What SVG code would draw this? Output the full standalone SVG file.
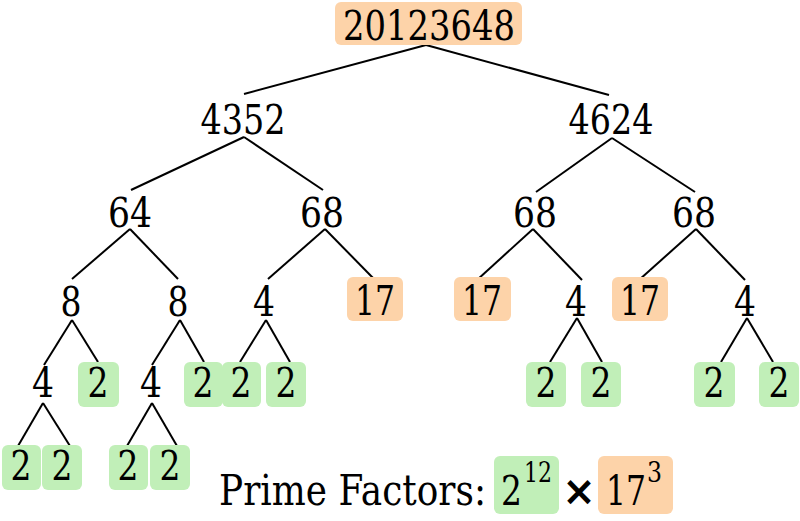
<svg xmlns="http://www.w3.org/2000/svg" width="800" height="521" viewBox="0 0 800 521">
<style>
.t{font-family:'DejaVu Serif',serif;font-size:41px;text-anchor:middle;fill:#000}
.sup{font-size:27px}
.g{fill:#c1efb8}
.o{fill:#fdd3a9}
.e line{stroke:#000;stroke-width:2}
</style>
<rect width="800" height="521" fill="#fff"/>
<g id="connectors" class="e">
<line x1="426" y1="45" x2="244" y2="94"/>
<line x1="426" y1="45" x2="609" y2="95"/>
<line x1="244" y1="137" x2="131" y2="190"/>
<line x1="244" y1="137" x2="323" y2="190"/>
<line x1="612" y1="138" x2="536" y2="192"/>
<line x1="612" y1="138" x2="695" y2="192"/>
<line x1="130" y1="229" x2="72" y2="279"/>
<line x1="130" y1="229" x2="178" y2="279"/>
<line x1="325" y1="229" x2="268" y2="279"/>
<line x1="325" y1="229" x2="374" y2="279"/>
<line x1="533" y1="229" x2="477" y2="280"/>
<line x1="533" y1="229" x2="582" y2="280"/>
<line x1="696" y1="229" x2="639" y2="280"/>
<line x1="696" y1="229" x2="745" y2="280"/>
<line x1="72" y1="320" x2="44" y2="365"/>
<line x1="72" y1="320" x2="98" y2="362"/>
<line x1="180" y1="320" x2="152" y2="365"/>
<line x1="180" y1="320" x2="204" y2="362"/>
<line x1="266" y1="320" x2="240" y2="362"/>
<line x1="266" y1="320" x2="290" y2="362"/>
<line x1="577" y1="318" x2="550" y2="362"/>
<line x1="577" y1="318" x2="602" y2="362"/>
<line x1="747" y1="318" x2="721" y2="362"/>
<line x1="747" y1="318" x2="773" y2="362"/>
<line x1="43" y1="403" x2="18" y2="446"/>
<line x1="43" y1="403" x2="70" y2="446"/>
<line x1="152" y1="403" x2="127" y2="446"/>
<line x1="152" y1="403" x2="177" y2="446"/>
</g>
<g id="n-root"><rect class="o" x="335" y="2" width="187" height="43" rx="6"/><text class="t" x="429" y="40" textLength="172" lengthAdjust="spacingAndGlyphs">20123648</text></g>
<g id="n-4352"><text class="t" x="243" y="134" textLength="85" lengthAdjust="spacingAndGlyphs">4352</text></g>
<g id="n-4624"><text class="t" x="611" y="134" textLength="85" lengthAdjust="spacingAndGlyphs">4624</text></g>
<g id="n-64"><text class="t" x="130" y="227" textLength="44" lengthAdjust="spacingAndGlyphs">64</text></g>
<g id="n-68a"><text class="t" x="322" y="227" textLength="44" lengthAdjust="spacingAndGlyphs">68</text></g>
<g id="n-68b"><text class="t" x="535" y="227" textLength="44" lengthAdjust="spacingAndGlyphs">68</text></g>
<g id="n-68c"><text class="t" x="694" y="227" textLength="44" lengthAdjust="spacingAndGlyphs">68</text></g>
<g id="n-8a"><text class="t" x="71" y="316" textLength="21" lengthAdjust="spacingAndGlyphs">8</text></g>
<g id="n-8b"><text class="t" x="178" y="316" textLength="21" lengthAdjust="spacingAndGlyphs">8</text></g>
<g id="n-4a"><text class="t" x="264" y="316" textLength="22" lengthAdjust="spacingAndGlyphs">4</text></g>
<g id="n-17a"><rect class="o" x="347" y="277" width="56" height="44" rx="6"/><text class="t" x="375" y="315" textLength="40" lengthAdjust="spacingAndGlyphs">17</text></g>
<g id="n-17b"><rect class="o" x="454" y="277" width="57" height="44" rx="6"/><text class="t" x="482" y="315" textLength="40" lengthAdjust="spacingAndGlyphs">17</text></g>
<g id="n-4b"><text class="t" x="576" y="316" textLength="22" lengthAdjust="spacingAndGlyphs">4</text></g>
<g id="n-17c"><rect class="o" x="612" y="277" width="56" height="44" rx="6"/><text class="t" x="640" y="315" textLength="40" lengthAdjust="spacingAndGlyphs">17</text></g>
<g id="n-4c"><text class="t" x="745" y="316" textLength="22" lengthAdjust="spacingAndGlyphs">4</text></g>
<g id="n-4d"><text class="t" x="43" y="397" textLength="22" lengthAdjust="spacingAndGlyphs">4</text></g>
<g id="n-2a"><rect class="g" x="78" y="362" width="41" height="45" rx="6"/><text class="t" x="98" y="397" textLength="21" lengthAdjust="spacingAndGlyphs">2</text></g>
<g id="n-4e"><text class="t" x="151" y="397" textLength="22" lengthAdjust="spacingAndGlyphs">4</text></g>
<g id="n-2b"><rect class="g" x="184" y="362" width="39" height="45" rx="6"/><text class="t" x="203" y="397" textLength="21" lengthAdjust="spacingAndGlyphs">2</text></g>
<g id="n-2c"><rect class="g" x="222" y="362" width="39" height="45" rx="6"/><text class="t" x="241" y="397" textLength="21" lengthAdjust="spacingAndGlyphs">2</text></g>
<g id="n-2d"><rect class="g" x="266" y="362" width="40" height="45" rx="6"/><text class="t" x="286" y="397" textLength="21" lengthAdjust="spacingAndGlyphs">2</text></g>
<g id="n-2e"><rect class="g" x="526" y="362" width="40" height="45" rx="6"/><text class="t" x="546" y="397" textLength="21" lengthAdjust="spacingAndGlyphs">2</text></g>
<g id="n-2f"><rect class="g" x="581" y="362" width="40" height="45" rx="6"/><text class="t" x="601" y="397" textLength="21" lengthAdjust="spacingAndGlyphs">2</text></g>
<g id="n-2g"><rect class="g" x="694" y="362" width="41" height="45" rx="6"/><text class="t" x="714" y="397" textLength="21" lengthAdjust="spacingAndGlyphs">2</text></g>
<g id="n-2h"><rect class="g" x="759" y="362" width="40" height="45" rx="6"/><text class="t" x="779" y="397" textLength="21" lengthAdjust="spacingAndGlyphs">2</text></g>
<g id="n-2i"><rect class="g" x="2" y="445" width="39" height="45" rx="6"/><text class="t" x="21" y="480" textLength="21" lengthAdjust="spacingAndGlyphs">2</text></g>
<g id="n-2j"><rect class="g" x="42" y="445" width="40" height="45" rx="6"/><text class="t" x="62" y="480" textLength="21" lengthAdjust="spacingAndGlyphs">2</text></g>
<g id="n-2k"><rect class="g" x="109" y="445" width="39" height="45" rx="6"/><text class="t" x="128" y="480" textLength="21" lengthAdjust="spacingAndGlyphs">2</text></g>
<g id="n-2l"><rect class="g" x="150" y="445" width="40" height="45" rx="6"/><text class="t" x="170" y="480" textLength="21" lengthAdjust="spacingAndGlyphs">2</text></g>
<g id="legend">
<text class="t" x="219" y="505" style="text-anchor:start;font-size:43px" textLength="267" lengthAdjust="spacingAndGlyphs">Prime Factors:</text>
<rect class="g" x="494" y="456" width="65" height="58" rx="6"/>
<text class="t" x="501" y="505" style="text-anchor:start"><tspan textLength="21" lengthAdjust="spacingAndGlyphs">2</tspan><tspan class="sup" x="524" y="482" textLength="28" lengthAdjust="spacingAndGlyphs">12</tspan></text>
<text x="579" y="505" font-family="DejaVu Sans, sans-serif" font-weight="bold" font-size="40" text-anchor="middle">×</text>
<rect class="o" x="598" y="456" width="75" height="58" rx="6"/>
<text class="t" x="606" y="505" style="text-anchor:start"><tspan textLength="40" lengthAdjust="spacingAndGlyphs">17</tspan><tspan class="sup" x="647" y="482" textLength="15" lengthAdjust="spacingAndGlyphs">3</tspan></text>
</g>
</svg>
